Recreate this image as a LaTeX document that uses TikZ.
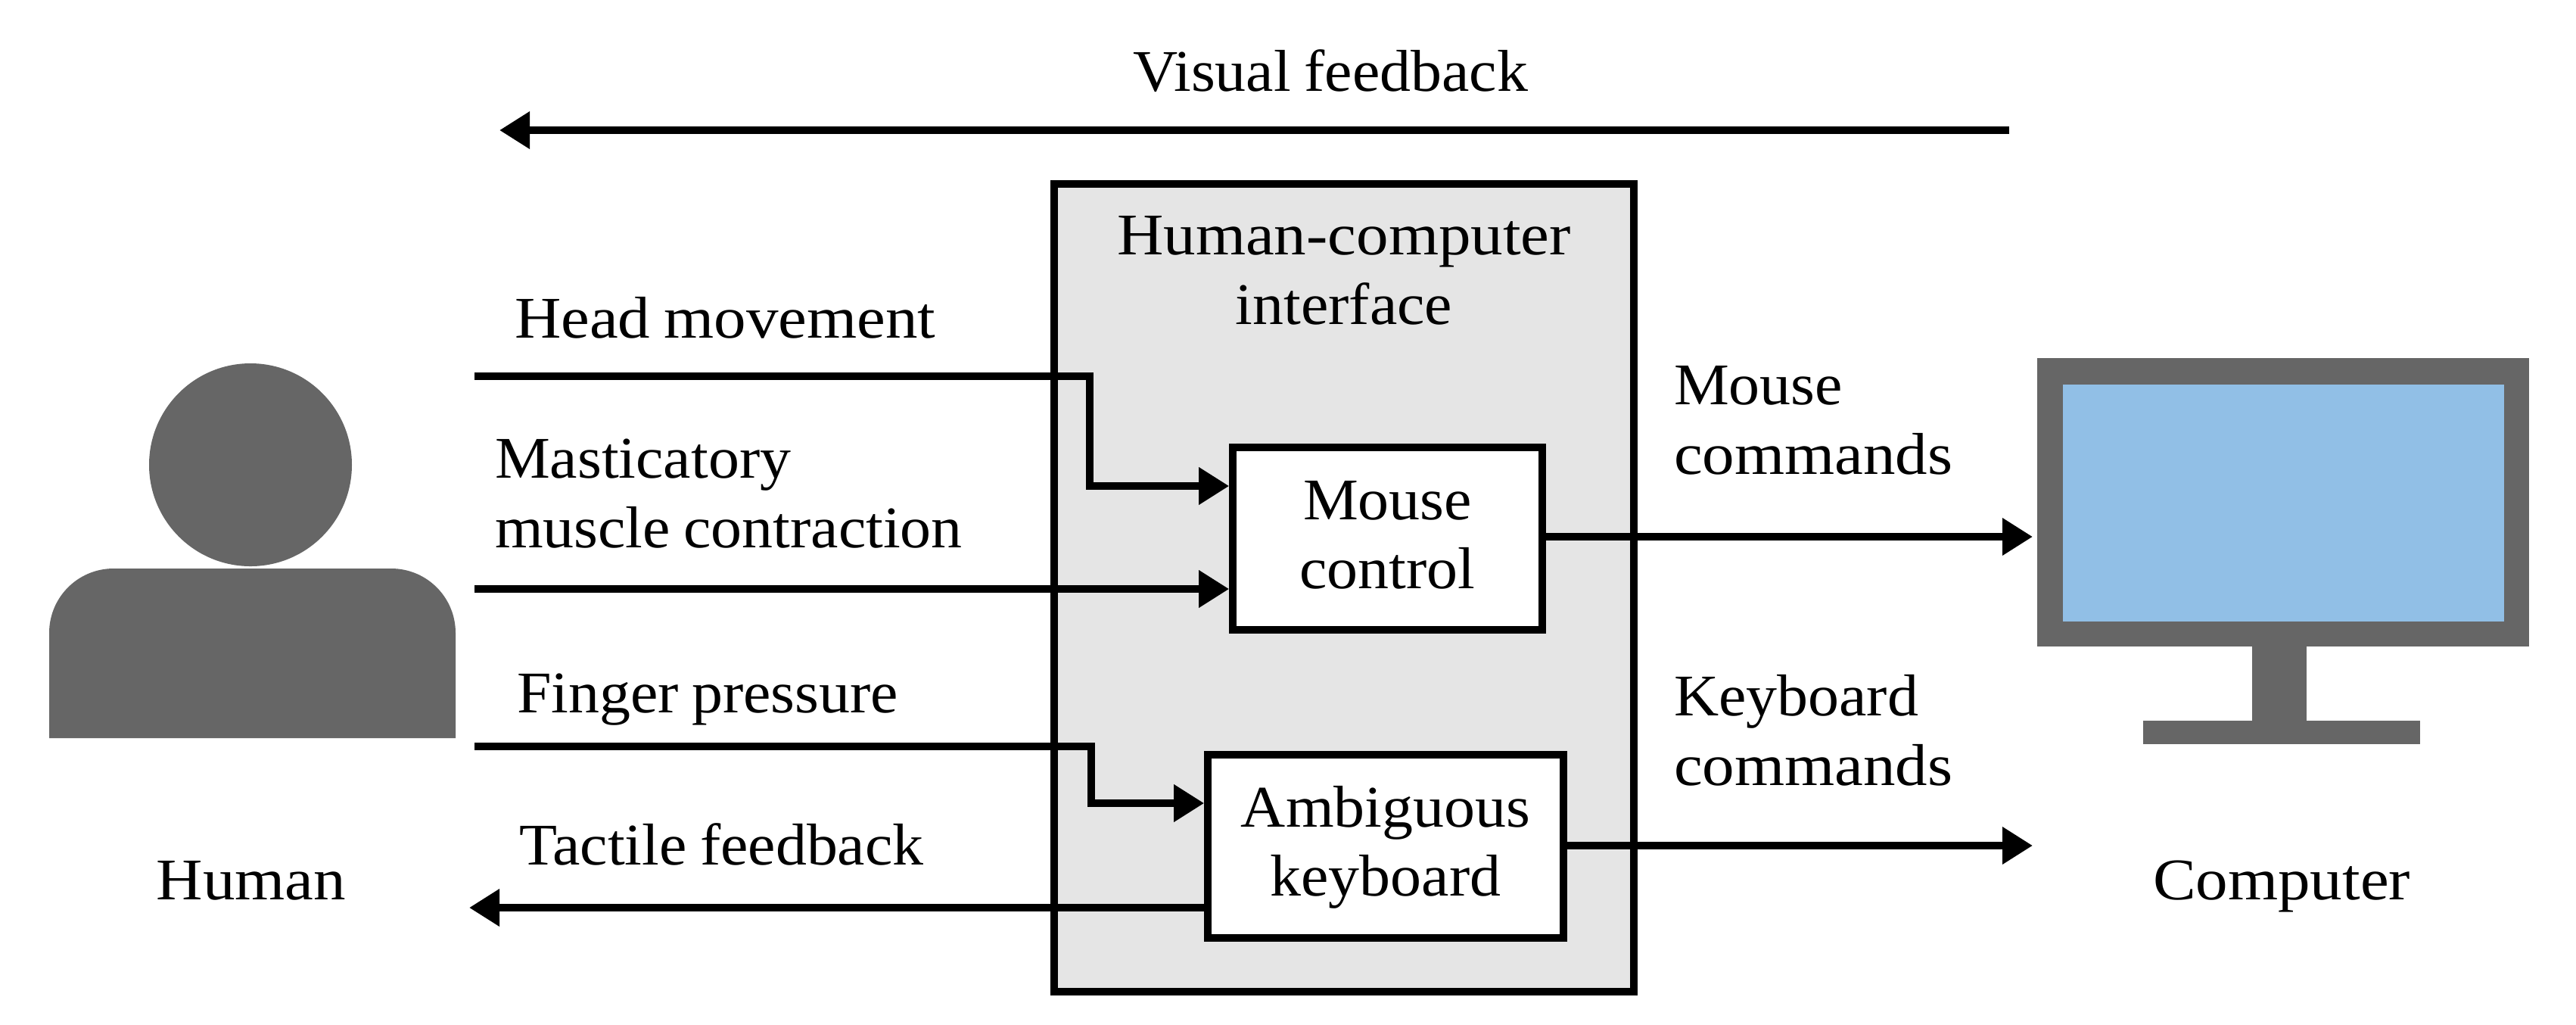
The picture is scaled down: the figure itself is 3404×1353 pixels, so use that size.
\documentclass[tikz,border=0pt]{standalone}
\usepackage{fontspec}
\setmainfont[FakeStretch=1.05,WordSpace=0.85]{Liberation Serif}
\newfontfamily\widefont[FakeStretch=1.09,WordSpace=0.85]{Liberation Serif}
\usetikzlibrary{arrows.meta}
\definecolor{icongray}{HTML}{666666}
\definecolor{panelgray}{HTML}{E5E5E5}
\definecolor{screenblue}{HTML}{91BFE6}
\tikzset{
  conn/.style={line width=2.5pt,-{Triangle[length=10pt,width=11.75pt]}},
  panel/.style={draw=black,fill=panelgray,line width=2.4pt,rectangle,inner sep=0pt},
  blockbox/.style={draw=black,fill=white,line width=2.4pt,rectangle,inner sep=0pt,align=center},
  lbl/.style={inner sep=0pt,outer sep=0pt,anchor=base west,align=left},
  lblc/.style={inner sep=0pt,outer sep=0pt,anchor=base,align=center},
  icon/.style={fill=icongray,draw=none},
}
\begin{document}
\begin{tikzpicture}[x=0.25pt,y=-0.25pt,font=\fontsize{19.5}{22.9}\selectfont]
\useasboundingbox (0,0) rectangle (3404,1353);
% Human icon
\node[icon,circle,minimum size=67pt,inner sep=0pt,outer sep=0pt] (head) at (331,614) {};
\fill[icongray] (65,975) -- (65,836) arc[start angle=180,end angle=270,radius=85] -- (517,751) arc[start angle=-90,end angle=0,radius=85] -- (602,975) -- cycle;
% Monitor icon
\node[rectangle,fill=icongray,inner sep=0pt,outer sep=0pt,minimum width=162.5pt,minimum height=95.25pt] (monitor) at (3017,663.5) {};
\node[rectangle,fill=screenblue,inner sep=0pt,outer sep=0pt,minimum width=145.75pt,minimum height=78.25pt] (screen) at (3017.5,664) {};
\fill[icongray] (2976,854) rectangle (3048,952);
\fill[icongray] (2832,952) rectangle (3198,983);
% Interface panel
\node[panel,minimum width=191.5pt,minimum height=266.75pt] (hci) at (1776,776.5) {};
\node[lblc] (hcititle) at (1776,428) {{\widefont Human-computer}\\interface};
% Free ends
\coordinate (visA) at (2655,172);
\coordinate (visB) at (660,172);
\coordinate (headA) at (627,497);
\coordinate (headB) at (1440,497);
\coordinate (headC) at (1440,642);
\coordinate (mastA) at (627,778);
\coordinate (fingA) at (627,986);
\coordinate (fingB) at (1442,986);
\coordinate (fingC) at (1442,1061);
\coordinate (tactB) at (620,1199);
\coordinate (mouseOut) at (2686,709);
\coordinate (keyOut) at (2686,1117);
% Inner blocks
\node[blockbox,minimum width=102.25pt,minimum height=60.25pt] (mouse) at (1833.5,711.5) {\rule{0pt}{12.75pt}Mouse\\control\rule[-2.5pt]{0pt}{2.5pt}};
\node[blockbox,minimum width=117.5pt,minimum height=60.6pt] (kbd) at (1831,1118) {\rule{0pt}{14.5pt}Ambiguous\\keyboard\rule[-4.5pt]{0pt}{4.5pt}};
% Connectors
\draw[conn] (visA) -- (visB);
\draw[conn] (headA) -- (headB) -- (headC) -- (mouse.west |- headC);
\draw[conn] (mastA) -- (mouse.west |- mastA);
\draw[conn] (fingA) -- (fingB) -- (fingC) -- (kbd.west |- fingC);
\draw[conn] (kbd.west |- tactB) -- (tactB);
\draw[conn] (mouse.east |- mouseOut) -- (mouseOut);
\draw[conn] (kbd.east |- keyOut) -- (keyOut);
% Labels
\node[lblc] (vislbl) at (1758,120) {Visual feedback};
\node[lbl] (headlbl) at (680,446) {{\widefont Head movement}};
\node[lbl] (mastlbl) at (654,723) {Masticatory\\muscle contraction};
\node[lbl] (finglbl) at (683,941) {Finger pressure};
\node[lbl] (tactlbl) at (686,1142) {Tactile feedback};
\node[lblc] (humanlbl) at (332,1188) {{\widefont Human}};
\node[lblc] (complbl) at (3015,1188) {{\widefont Computer}};
\node[lbl] (mouselbl) at (2212,626) {Mouse\\{\widefont commands}};
\node[lbl] (keylbl) at (2212,1037) {Keyboard\\{\widefont commands}};
\end{tikzpicture}
\end{document}
